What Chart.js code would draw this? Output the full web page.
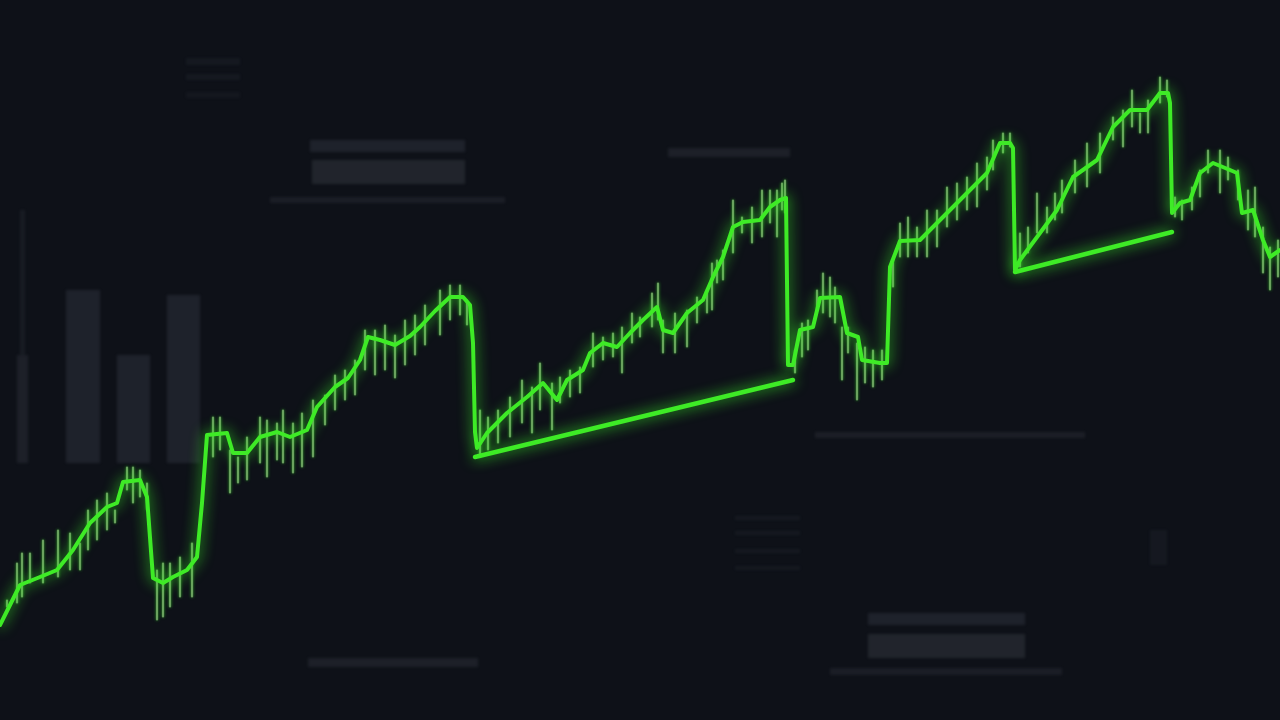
<!DOCTYPE html>
<html>
<head>
<meta charset="utf-8">
<script src="https://cdn.jsdelivr.net/npm/chart.js@4/dist/chart.umd.min.js"></script>
<style>
  html, body { margin: 0; padding: 0; background: #0e1118; overflow: hidden; }
  canvas { display: block; }
</style>
</head>
<body>
<canvas id="priceChart" width="1280" height="720"></canvas>
<script>
// time steps and closing levels of the green series
const priceTimes = [0, 10, 20, 40, 57, 73, 90, 107, 117, 123, 140, 147, 153, 163, 173, 187, 197, 202, 207, 227,
    233, 247, 260, 277, 290, 307, 317, 335, 348, 360, 368, 380, 395, 410, 420, 435, 450, 463, 470, 473,
    475, 477, 487, 507, 527, 543, 557, 567, 583, 590, 603, 617, 630, 643, 657, 663, 673, 687, 703, 713,
    723, 733, 743, 760, 770, 780, 786, 788, 793, 800, 813, 820, 840, 847, 858, 862, 880, 887, 890, 900,
    920, 940, 967, 987, 1000, 1010, 1013, 1015, 1020, 1040, 1057, 1073, 1097, 1113, 1130, 1147, 1160, 1168, 1170, 1172,
    1180, 1190, 1200, 1213, 1230, 1237, 1242, 1253, 1263, 1270, 1280];
const priceLevels = [95, 115, 135, 143, 150, 170, 197, 213, 217, 238, 240, 223, 142, 137, 143, 150, 163, 217, 285, 287,
    267, 267, 283, 288, 283, 290, 313, 333, 342, 360, 383, 380, 375, 384, 393, 409, 423, 423, 415, 377,
    288, 272, 287, 307, 323, 337, 320, 340, 350, 367, 377, 373, 387, 400, 413, 390, 387, 407, 420, 443,
    463, 493, 498, 500, 513, 520, 522, 355, 355, 390, 393, 422, 423, 387, 383, 360, 357, 357, 453, 479,
    480, 500, 527, 547, 577, 577, 572, 450, 460, 487, 510, 543, 560, 593, 610, 610, 627, 627, 617, 507,
    517, 520, 547, 557, 550, 547, 507, 510, 480, 463, 470];

// high/low wicks around the series
const wickTimes = [7, 17, 22, 30, 43, 58, 70, 80, 88, 97, 107, 115, 127, 133, 140, 147, 157, 163, 170, 180,
    192, 213, 220, 230, 238, 247, 260, 267, 277, 283, 293, 302, 313, 325, 335, 345, 355, 365, 375, 385,
    395, 405, 415, 425, 440, 450, 460, 467, 480, 488, 498, 510, 522, 532, 540, 552, 560, 570, 580, 593,
    603, 613, 622, 632, 640, 652, 658, 663, 675, 687, 697, 707, 712, 717, 723, 733, 742, 752, 762, 770,
    777, 782, 785, 795, 802, 808, 817, 823, 830, 835, 842, 848, 857, 865, 873, 882, 893, 900, 908, 917,
    927, 937, 947, 957, 967, 977, 987, 993, 1003, 1010, 1020, 1028, 1037, 1047, 1055, 1062, 1075, 1087, 1100, 1113,
    1123, 1132, 1140, 1148, 1160, 1167, 1175, 1182, 1192, 1200, 1208, 1220, 1228, 1238, 1248, 1255, 1263, 1270, 1278];
const wickRanges = [[113, 120], [117, 157], [123, 167], [137, 167], [137, 180], [143, 190], [150, 187], [150, 177], [170, 210], [180, 220],
    [190, 227], [197, 210], [230, 253], [217, 253], [223, 250], [210, 237], [100, 150], [103, 157], [113, 157], [123, 163],
    [123, 177], [263, 303], [270, 303], [227, 270], [237, 263], [240, 283], [257, 303], [243, 300], [260, 297], [257, 310],
    [247, 297], [253, 307], [263, 320], [295, 325], [310, 345], [320, 350], [325, 360], [350, 390], [345, 390], [350, 395],
    [342, 385], [355, 400], [365, 405], [375, 415], [385, 430], [400, 435], [405, 435], [395, 420], [263, 310], [270, 303],
    [277, 310], [283, 323], [297, 340], [287, 333], [310, 357], [290, 337], [317, 343], [323, 350], [327, 353], [353, 387],
    [360, 383], [363, 387], [347, 393], [377, 407], [383, 403], [393, 427], [400, 437], [367, 400], [367, 407], [373, 410],
    [397, 423], [407, 430], [410, 457], [437, 460], [440, 470], [467, 520], [487, 503], [477, 513], [483, 530], [497, 530],
    [483, 530], [510, 537], [507, 540], [347, 370], [363, 397], [370, 400], [410, 430], [407, 447], [403, 443], [397, 433],
    [340, 393], [367, 393], [320, 377], [337, 373], [333, 370], [340, 370], [433, 460], [463, 497], [463, 503], [463, 493],
    [463, 510], [473, 510], [493, 533], [500, 537], [510, 543], [513, 557], [530, 563], [550, 580], [567, 587], [573, 587],
    [453, 487], [467, 493], [487, 527], [487, 513], [500, 527], [507, 540], [527, 560], [533, 577], [547, 587], [580, 603],
    [573, 610], [593, 630], [587, 607], [587, 620], [617, 643], [623, 640], [503, 523], [500, 520], [510, 533], [523, 550],
    [547, 570], [527, 570], [540, 563], [520, 550], [490, 530], [483, 533], [447, 493], [430, 473], [443, 480]];

// rising support lines under the two pullbacks
const supportA = [[475, 263], [793, 340]];
const supportB = [[1015, 448], [1172, 488]];

// faded background panels: [from, to, low, high, shade]
const panels = [
    [20, 25, 365, 510, 0.10], [17, 28, 257, 365, 0.14],
    [66, 100, 257, 430, 0.16], [117, 150, 257, 365, 0.16], [167, 200, 257, 425, 0.16],
    [310, 465, 568, 580, 0.16], [312, 465, 536, 560, 0.18], [270, 505, 517, 523, 0.12],
    [668, 790, 563, 572, 0.14], [815, 1085, 282, 288, 0.13],
    [868, 1025, 95, 107, 0.16], [868, 1025, 62, 86, 0.18], [830, 1062, 45, 52, 0.12], [308, 478, 53, 62, 0.14],
    [186, 240, 655, 662, 0.07], [186, 240, 640, 646, 0.07], [186, 240, 622, 628, 0.06],
    [735, 800, 200, 204, 0.08], [735, 800, 185, 189, 0.08], [735, 800, 167, 171, 0.08], [735, 800, 150, 154, 0.07],
    [1150, 1167, 155, 190, 0.07],
];

const GREEN = "rgb(62, 235, 38)";

const toPoints = (pairs) => pairs.map(([x, y]) => ({ x, y }));

const panelPlugin = {
    id: "panels",
    beforeDatasetsDraw(chart) {
        const { ctx, scales } = chart;
        ctx.save();
        ctx.filter = "blur(1.5px)";
        panels.forEach(([x0, x1, lo, hi, shade]) => {
            const left = scales.x.getPixelForValue(x0);
            const right = scales.x.getPixelForValue(x1);
            const top = scales.y.getPixelForValue(hi);
            const bottom = scales.y.getPixelForValue(lo);
            ctx.fillStyle = `rgba(120, 125, 140, ${shade})`;
            ctx.fillRect(left, top, right - left, bottom - top);
        });
        ctx.restore();
    },
};

// soft neon glow on datasets flagged with glow
const glowPlugin = {
    id: "glow",
    beforeDatasetDraw(chart, args) {
        const ds = chart.data.datasets[args.index];
        if (!ds.glow) return;
        chart.ctx.save();
        chart.ctx.shadowColor = "rgba(60, 255, 40, 0.95)";
        chart.ctx.shadowBlur = ds.glow;
    },
    afterDatasetDraw(chart, args) {
        const ds = chart.data.datasets[args.index];
        if (!ds.glow) return;
        chart.ctx.restore();
    },
};

const config = {
    type: "line",
    data: {
        datasets: [
            {
                type: "bar",
                data: wickTimes.map((t, i) => ({ x: t, y: wickRanges[i] })),
                backgroundColor: "rgba(160, 215, 140, 0.6)",
                barThickness: 1.5,
                grouped: false,
                glow: 3,
                order: 3,
            },
            {
                data: priceTimes.map((t, i) => ({ x: t, y: priceLevels[i] })),
                borderColor: GREEN,
                borderWidth: 4,
                tension: 0,
                glow: 14,
                order: 1,
            },
            {
                data: toPoints(supportA),
                borderColor: GREEN,
                borderWidth: 4.5,
                glow: 14,
                order: 2,
            },
            {
                data: toPoints(supportB),
                borderColor: GREEN,
                borderWidth: 4.5,
                glow: 14,
                order: 2,
            },
        ],
    },
    options: {
        responsive: false,
        animation: false,
        layout: { padding: 0 },
        elements: {
            point: { radius: 0 },
            line: { borderCapStyle: "round", borderJoinStyle: "round" },
        },
        scales: {
            x: { type: "linear", min: 0, max: 1280, offset: false, display: false },
            y: { type: "linear", min: 0, max: 720, display: false },
        },
        plugins: {
            legend: { display: false },
            tooltip: { enabled: false },
        },
    },
    plugins: [panelPlugin, glowPlugin],
};

new Chart(document.getElementById("priceChart"), config);
</script>
</body>
</html>
